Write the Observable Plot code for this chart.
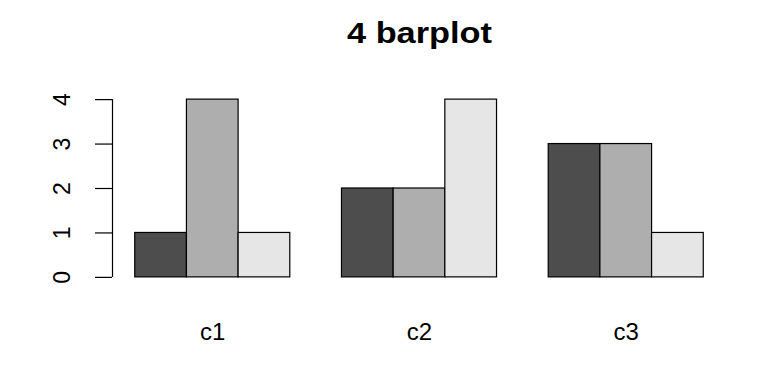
<!DOCTYPE html>
<html>
<head>
<meta charset="utf-8">
<script src="https://cdn.jsdelivr.net/npm/d3@7"></script>
<script src="https://cdn.jsdelivr.net/npm/@observablehq/plot@0.6"></script>
<style>
  html, body { margin: 0; padding: 0; background: #fff; }
  svg { display: block; }
</style>
</head>
<body>
<div id="chart"></div>
<script>
const title = "4 barplot";
const groups = ["c1", "c2", "c3"];
const series1 = [1, 2, 3];
const series2 = [4, 2, 3];
const series3 = [1, 4, 1];
const seriesFills = ["#4D4D4D", "#AEAEAE", "#E6E6E6"];
const yTicks = [0, 1, 2, 3, 4];

// R barplot(beside=TRUE) layout: one bar-width space before each group
const allSeries = [series1, series2, series3];
const rows = [];
groups.forEach((g, gi) => {
  allSeries.forEach((s, si) => {
    const x1 = 1 + gi * (allSeries.length + 1) + si;
    rows.push({group: g, value: s[gi], x1, x2: x1 + 1, fill: seriesFills[si]});
  });
});
const groupCenters = groups.map((g, gi) => ({group: g, x: 1 + gi * (allSeries.length + 1) + allSeries.length / 2}));
const xMin = 1, xMax = groups.length * (allSeries.length + 1);
const xPad = (xMax - xMin) * 0.04;
const yMin = d3.min(yTicks), yMax = d3.max(yTicks);
const yPad = (yMax - yMin) * 0.04;

const chart = Plot.plot({
  width: 782,
  height: 372,
  marginLeft: 112,
  marginRight: 56,
  marginTop: 92,
  marginBottom: 88,
  style: {fontFamily: "'Liberation Sans', Arial, sans-serif", background: "#fff"},
  x: {type: "linear", domain: [xMin - xPad, xMax + xPad], axis: null},
  y: {type: "linear", domain: [yMin - yPad, yMax + yPad], axis: null},
  color: {type: "identity"},
  marks: [
    Plot.rectY(rows, {x1: "x1", x2: "x2", y1: 0, y2: "value", fill: "fill", stroke: "#000", strokeWidth: 1.2}),
    Plot.ruleX([xMin - xPad], {y1: yMin, y2: yMax, stroke: "#000", strokeWidth: 1.2}),
    Plot.axisY({ticks: yTicks, tickSize: 17, tickFormat: () => "", label: null, stroke: "#000", strokeWidth: 1.2}),
    Plot.text(yTicks, {y: d => d, frameAnchor: "left", dx: -50, rotate: -90, textAnchor: "middle", lineAnchor: "middle", fontSize: 23, fill: "#000", text: d => String(d)}),
    Plot.text(groupCenters, {x: "x", frameAnchor: "bottom", dy: 48, lineAnchor: "middle", textAnchor: "middle", fontSize: 24, fill: "#000", text: "group"}),
    Plot.text([title], {frameAnchor: "top", dy: -59, lineAnchor: "middle", textAnchor: "middle", fontSize: 30, fontWeight: "bold", fill: "#000", text: d => d, className: "main-title"})
  ]
});
// R's title glyphs render slightly wider than Liberation Sans Bold
d3.select(chart).selectAll(".main-title text").attr("textLength", 145).attr("lengthAdjust", "spacingAndGlyphs");
document.getElementById("chart").appendChild(chart);
</script>
</body>
</html>
